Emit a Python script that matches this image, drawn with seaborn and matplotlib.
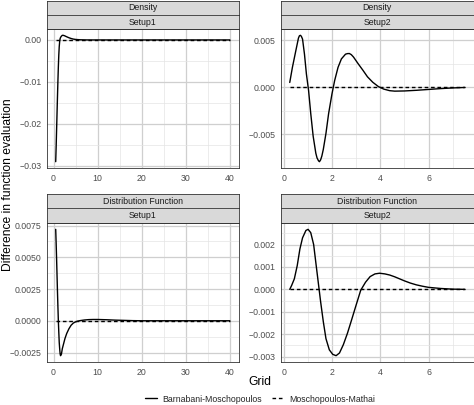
import numpy as np
import pandas as pd
import matplotlib
matplotlib.use("Agg")
import matplotlib.pyplot as plt
import seaborn as sns
from matplotlib.lines import Line2D

# ---------------- data ----------------
methods = ["Barnabani-Moschopoulos", "Moschopoulos-Mathai"]
measures = ["Density", "Distribution Function"]
setups = ["Setup1", "Setup2"]

# Density, Setup1
dens_s1_x = [0.5, 0.6, 0.7, 0.8, 0.9, 1.0, 1.1, 1.2, 1.3, 1.4, 1.5, 1.6, 1.8, 2.0,
             2.2, 2.5, 3.0, 3.5, 4.0, 4.5, 5.0, 6.0, 7.0, 8.0, 10, 15, 20, 25, 30, 35, 40]
dens_s1_y = [-0.0290, -0.0255, -0.0215, -0.0175, -0.0136, -0.0098, -0.0064, -0.0036,
             -0.0016, -0.0004, 0.0003, 0.0006, 0.0009, 0.0011, 0.0011, 0.0010, 0.00075,
             0.00052, 0.00034, 0.0002, 0.00012, 0.00004, 0.00001, 0.0, 0.0, 0.0, 0.0,
             0.0, 0.0, 0.0, 0.0]

# Density, Setup2
dens_s2_x = [0.25, 0.36, 0.50, 0.61, 0.65, 0.69, 0.73, 0.78, 0.86, 0.94, 1.03, 1.12,
             1.22, 1.33, 1.38, 1.44, 1.48, 1.53, 1.58, 1.64, 1.75, 1.86, 2.0, 2.11,
             2.25, 2.39, 2.56, 2.64, 2.72, 2.80, 2.89, 3.08, 3.28, 3.47, 3.69, 3.92,
             4.14, 4.39, 4.6, 5.0, 5.5, 6.0, 6.5, 7.0, 7.5]
dens_s2_y = [0.0005, 0.0021, 0.00385, 0.0052, 0.00545, 0.0055, 0.0054, 0.0051, 0.0035,
             0.0014, -0.00035, -0.0028, -0.0052, -0.0070, -0.0075, -0.0078, -0.0079,
             -0.0077, -0.0073, -0.0066, -0.0049, -0.0028, -0.0007, 0.0007, 0.0021,
             0.0030, 0.0035, 0.00356, 0.00357, 0.00345, 0.0032, 0.0025, 0.0018, 0.0011,
             0.00052, 0.00007, -0.0002, -0.00037, -0.00042, -0.0004, -0.00033,
             -0.00024, -0.00015, -0.00008, -0.00003]

# Distribution Function, Setup1
dist_s1_x = [0.5, 0.6, 0.7, 0.8, 0.9, 1.0, 1.1, 1.2, 1.3, 1.4, 1.5, 1.6, 1.8, 2.0,
             2.3, 2.6, 3.0, 3.5, 4.0, 4.5, 5.0, 5.5, 6.0, 7.0, 8.0, 9.0, 10, 12, 14,
             16, 18, 20, 25, 30, 35, 40]
dist_s1_y = [0.0072, 0.0061, 0.0049, 0.0036, 0.0023, 0.0011, 0.0000, -0.0009, -0.0017,
             -0.0022, -0.0026, -0.00275, -0.00262, -0.0022, -0.0018, -0.0014, -0.0010,
             -0.00063, -0.00035, -0.00018, -0.00009, -0.00003, 0.00001, 0.00006,
             0.00009, 0.0001, 0.0001, 0.00008, 0.00005, 0.00003, 0.00001, 0.0, 0.0,
             0.0, 0.0, 0.0]

# Distribution Function, Setup2
dist_s2_x = [0.25, 0.33, 0.44, 0.56, 0.67, 0.78, 0.92, 1.01, 1.12, 1.24, 1.33, 1.43,
             1.53, 1.64, 1.75, 1.89, 2.03, 2.17, 2.31, 2.47, 2.64, 2.81, 3.0, 3.19,
             3.39, 3.58, 3.78, 3.97, 4.19, 4.39, 4.6, 4.8, 5.0, 5.25, 5.5, 5.75, 6.0,
             6.5, 7.0, 7.5]
dist_s2_y = [0.0, 0.00018, 0.00047, 0.00106, 0.0018, 0.0023, 0.00263, 0.00268,
             0.00253, 0.0020, 0.0012, 0.00032, -0.00056, -0.00144, -0.0022, -0.0027,
             -0.0029, -0.00296, -0.00284, -0.00247, -0.00196, -0.00137, -0.0007,
             -0.00004, 0.00032, 0.00057, 0.00069, 0.00072, 0.00069, 0.00064, 0.00056,
             0.00047, 0.00038, 0.00028, 0.0002, 0.00014, 0.00009, 0.00004, 0.00001, 0.0]

# Moschopoulos-Mathai: zero difference over the same grid range
mm_s1_x = [0.5, 40]
mm_s2_x = [0.25, 7.5]
mm_y = [0.0, 0.0]

# tick labels
x_ticks_s1 = [0, 10, 20, 30, 40]
x_minor_s1 = [5, 15, 25, 35]
x_labels_s1 = ["0", "10", "20", "30", "40"]
x_ticks_s2 = [0, 2, 4, 6]
x_minor_s2 = [1, 3, 5, 7]
x_labels_s2 = ["0", "2", "4", "6"]

y_ticks_ds1 = [-0.03, -0.02, -0.01, 0.0]
y_minor_ds1 = [-0.025, -0.015, -0.005]
y_labels_ds1 = ["\u22120.03", "\u22120.02", "\u22120.01", "0.00"]
y_ticks_ds2 = [-0.005, 0.0, 0.005]
y_minor_ds2 = [-0.0075, -0.0025, 0.0025]
y_labels_ds2 = ["\u22120.005", "0.000", "0.005"]
y_ticks_fs1 = [-0.0025, 0.0, 0.0025, 0.005, 0.0075]
y_minor_fs1 = [-0.00125, 0.00125, 0.00375, 0.00625]
y_labels_fs1 = ["\u22120.0025", "0.0000", "0.0025", "0.0050", "0.0075"]
y_ticks_fs2 = [-0.003, -0.002, -0.001, 0.0, 0.001, 0.002]
y_minor_fs2 = [-0.0025, -0.0015, -0.0005, 0.0005, 0.0015, 0.0025]
y_labels_fs2 = ["\u22120.003", "\u22120.002", "\u22120.001", "0.000", "0.001", "0.002"]

# ---------------- long table ----------------
rows = []
def add(measure, setup, method, xs, ys):
    for a, b in zip(xs, ys):
        rows.append(dict(measure=measure, setup=setup, method=method, grid=a, diff=b))

add("Density", "Setup1", methods[0], dens_s1_x, dens_s1_y)
add("Density", "Setup1", methods[1], mm_s1_x, mm_y)
add("Density", "Setup2", methods[0], dens_s2_x, dens_s2_y)
add("Density", "Setup2", methods[1], mm_s2_x, mm_y)
add("Distribution Function", "Setup1", methods[0], dist_s1_x, dist_s1_y)
add("Distribution Function", "Setup1", methods[1], mm_s1_x, mm_y)
add("Distribution Function", "Setup2", methods[0], dist_s2_x, dist_s2_y)
add("Distribution Function", "Setup2", methods[1], mm_s2_x, mm_y)
df = pd.DataFrame(rows)

# ---------------- style ----------------
sns.set_style("white")
plt.rcParams['font.family'] = ['Liberation Sans', 'DejaVu Sans']
plt.rcParams['axes.unicode_minus'] = False

W, H = 474, 405
fig = plt.figure(figsize=(W / 100, H / 100), dpi=100)

BORDER = "#333333"
STRIP_FILL = "#D9D9D9"
TICK_COL = "#4D4D4D"
DASH = (2.6, 2.0)
LW = 1.0

panel_specs = [
    ("Density", "Setup1", (47, 238.5, 29, 168), x_ticks_s1, x_minor_s1, x_labels_s1,
     y_ticks_ds1, y_minor_ds1, y_labels_ds1, (0.5, 14.5)),
    ("Density", "Setup2", (281, 473.5, 29, 168), x_ticks_s2, x_minor_s2, x_labels_s2,
     y_ticks_ds2, y_minor_ds2, y_labels_ds2, (0.5, 14.5)),
    ("Distribution Function", "Setup1", (47, 238.5, 223, 362), x_ticks_s1, x_minor_s1,
     x_labels_s1, y_ticks_fs1, y_minor_fs1, y_labels_fs1, (193.5, 208)),
    ("Distribution Function", "Setup2", (281, 473.5, 223, 362), x_ticks_s2, x_minor_s2,
     x_labels_s2, y_ticks_fs2, y_minor_fs2, y_labels_fs2, (193.5, 208)),
]

def fig_rect(x0, x1, y0, y1):
    return [x0 / W, 1 - y1 / H, (x1 - x0) / W, (y1 - y0) / H]

for (meas, setup, (x0, x1, y0, y1), xt, xm, xl, yt, ym, yl, (s0, s1)) in panel_specs:
    ax = fig.add_axes(fig_rect(x0, x1, y0, y1))
    sub = df[(df.measure == meas) & (df.setup == setup)]
    sns.lineplot(data=sub, x="grid", y="diff", style="method", style_order=methods,
                 dashes={methods[0]: "", methods[1]: DASH}, color="black",
                 linewidth=LW, estimator=None, sort=False, legend=False, ax=ax)
    lo, hi = sub["grid"].min(), sub["grid"].max()
    pad = 0.05 * (hi - lo)
    ax.set_xlim(lo - pad, hi + pad)
    lo, hi = sub["diff"].min(), sub["diff"].max()
    pad = 0.05 * (hi - lo)
    ax.set_ylim(lo - pad, hi + pad)

    ax.set_xticks(xt)
    ax.set_xticklabels(xl)
    ax.set_xticks(xm, minor=True)
    ax.set_yticks(yt)
    ax.set_yticklabels(yl)
    ax.set_yticks(ym, minor=True)
    ax.set_axisbelow(True)
    ax.grid(which="major", color="#CFCFCF", linewidth=0.9)
    ax.grid(which="minor", color="#E4E4E4", linewidth=0.5)
    ax.tick_params(which="major", direction="out", length=2.2, width=0.5,
                   color=BORDER, labelsize=6.3, labelcolor=TICK_COL, pad=1.8)
    ax.tick_params(which="minor", length=0)
    ax.set_xlabel("")
    ax.set_ylabel("")
    ax.set_facecolor("white")
    for sp in ax.spines.values():
        sp.set_visible(True)
        sp.set_color(BORDER)
        sp.set_linewidth(0.6)

    # strips
    for (ta, tb, label) in [(s0, s1, meas), (s1, y0, setup)]:
        sa = fig.add_axes(fig_rect(x0, x1, ta, tb))
        sa.set_facecolor(STRIP_FILL)
        sa.set_xticks([])
        sa.set_yticks([])
        for sp in sa.spines.values():
            sp.set_visible(True)
            sp.set_color(BORDER)
            sp.set_linewidth(0.6)
        sa.text(0.5, 0.47, label, ha="center", va="center", fontsize=6.3,
                color="#1A1A1A", transform=sa.transAxes)

# axis titles
fig.text(260 / W, 1 - 382 / H, "Grid", ha="center", va="center", fontsize=8.7,
         color="black")
fig.text(8 / W, 1 - 185 / H, "Difference in function evaluation", ha="center",
         va="center", rotation=90, fontsize=8.7, color="black")

# legend
handles = [Line2D([], [], color="black", linewidth=LW),
           Line2D([], [], color="black", linewidth=LW, dashes=DASH)]
fig.legend(handles, methods, loc="center", bbox_to_anchor=(260 / W, 1 - 399 / H),
           ncol=2, frameon=False, fontsize=6.3, handlelength=1.3, handletextpad=0.6,
           columnspacing=1.2)

fig.savefig("out.png", dpi=100, facecolor="white")
